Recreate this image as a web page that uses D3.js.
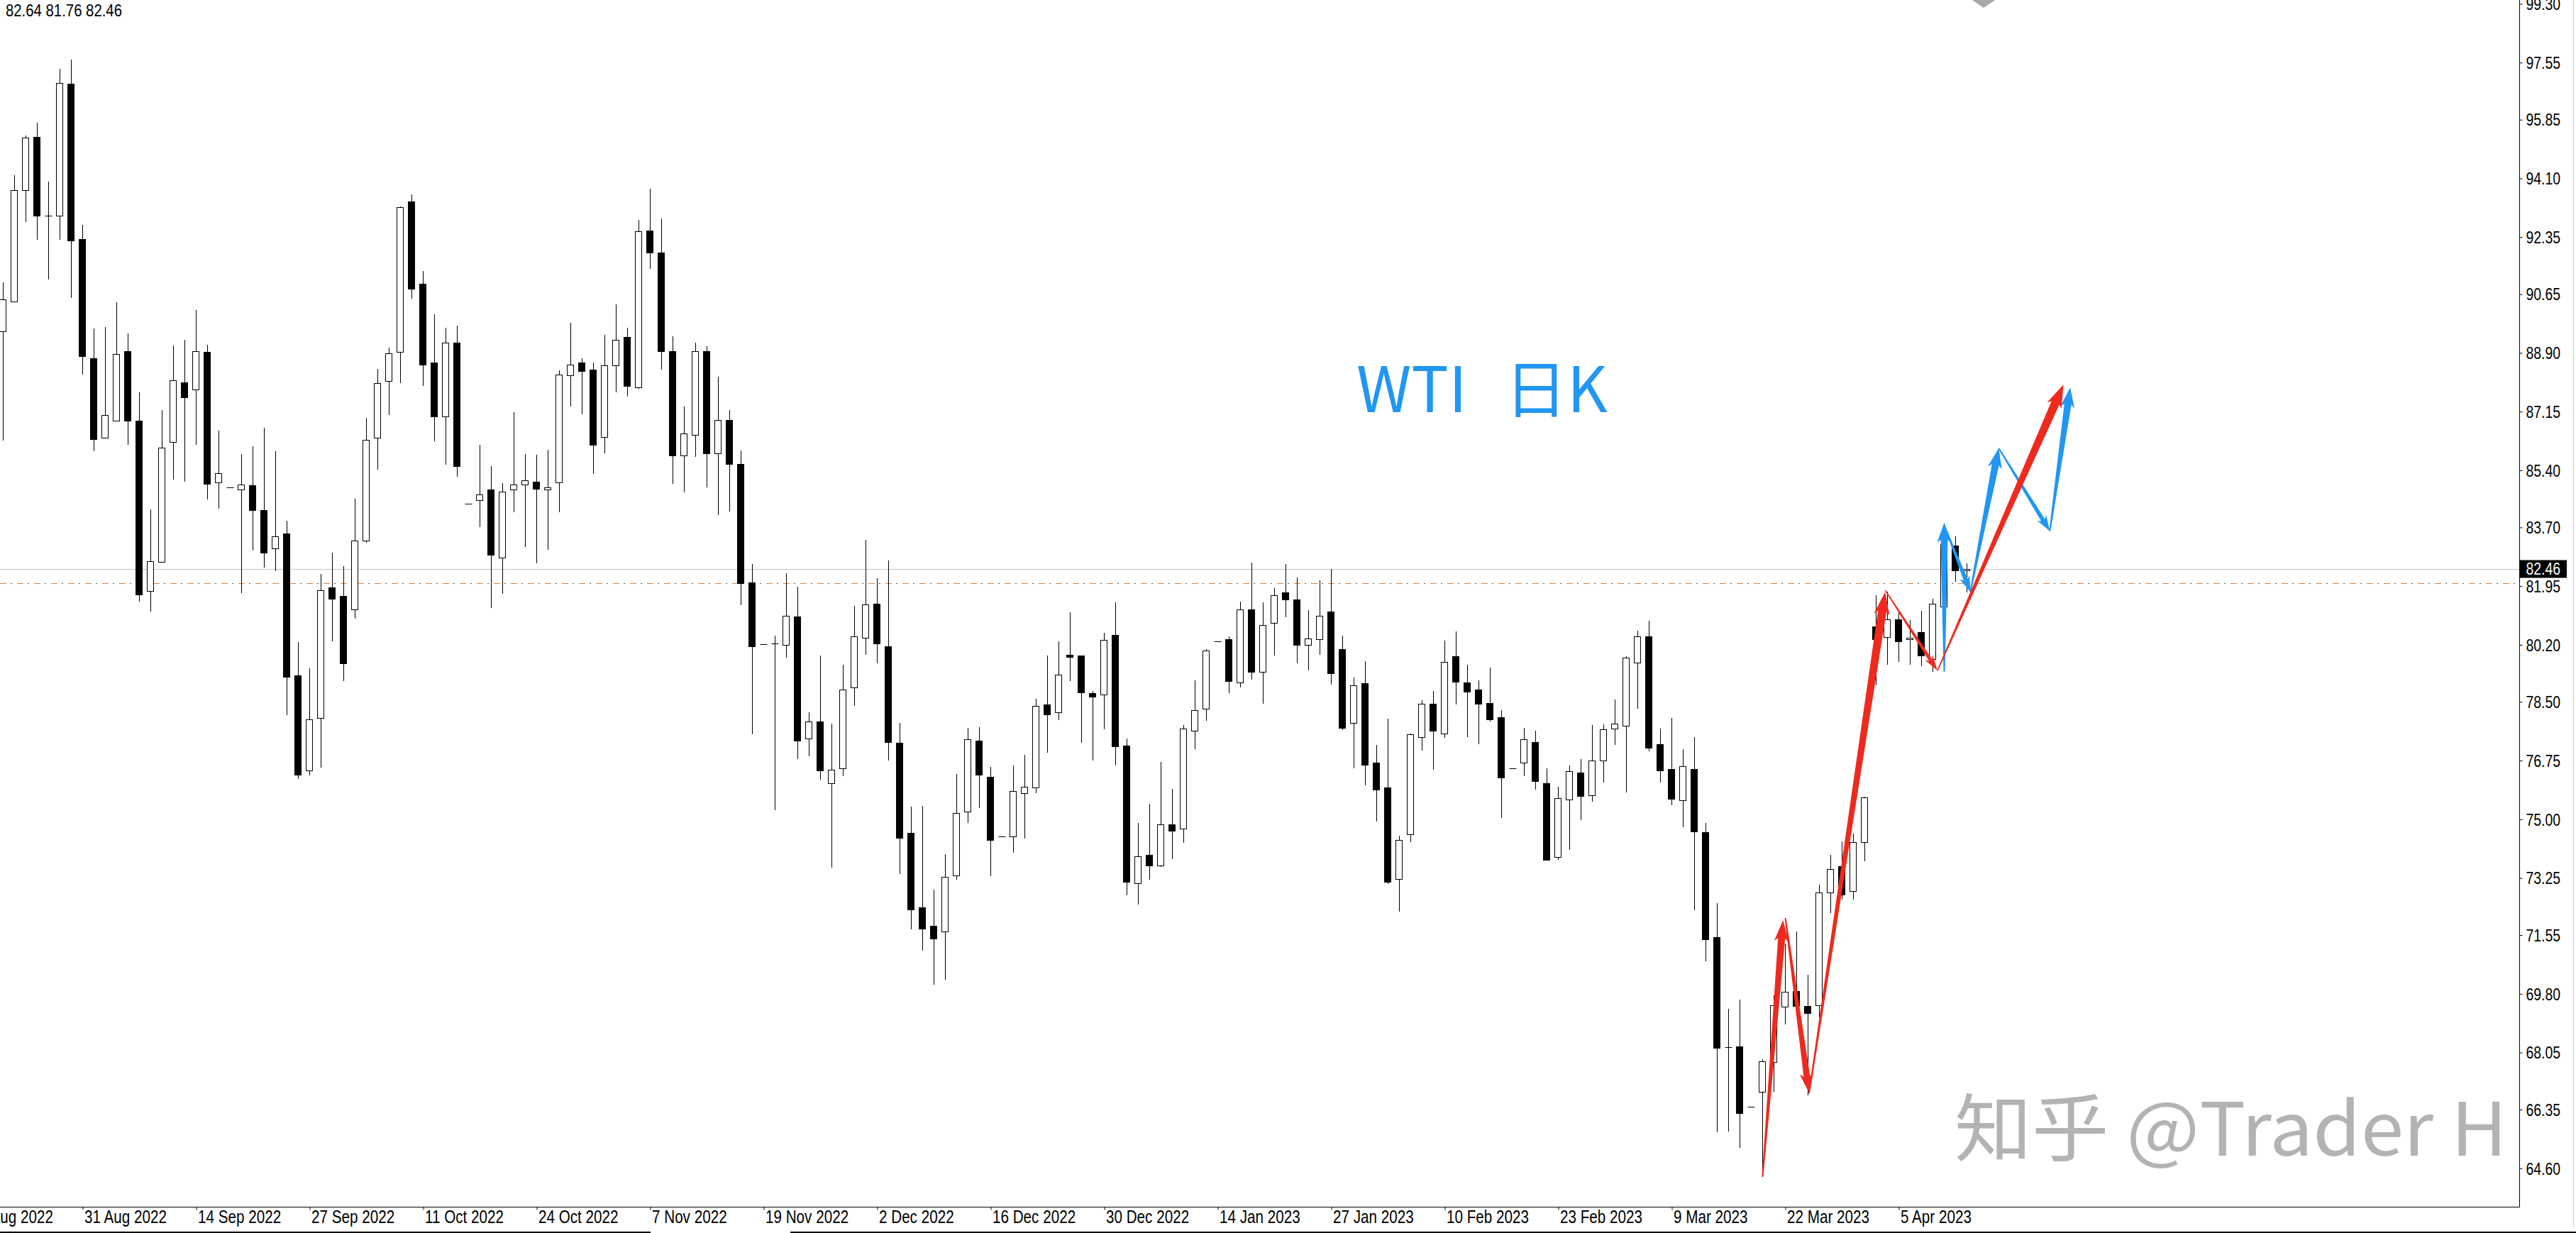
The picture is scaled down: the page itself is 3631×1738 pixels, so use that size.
<!DOCTYPE html>
<html>
<head>
<meta charset="utf-8">
<script src="https://cdn.jsdelivr.net/npm/d3@7/dist/d3.min.js"></script>
<style>
body { margin: 0; background: #fff; overflow: hidden; }
svg { display: block; }
</style>
</head>
<body>
<script>
// daily bars, oldest first
var opens = [89.55,90.43,93.75,95.34,92.99,92.98,96.93,92.30,88.74,86.37,86.87,88.95,86.88,81.80,82.67,86.25,88.03,87.80,88.92,85.05,
84.90,84.82,84.96,84.22,83.07,83.52,79.28,76.46,78.02,81.92,81.66,81.26,83.31,86.37,88.07,88.92,93.41,90.95,88.61,87.00,
89.20,84.41,84.52,84.83,82.80,84.83,84.97,85.07,84.82,85.05,88.23,88.62,88.40,86.40,88.53,89.38,87.87,92.55,91.90,88.95,
85.85,86.45,88.95,85.90,86.90,85.60,82.06,80.23,80.22,80.19,81.05,77.40,77.92,76.08,76.51,78.94,80.42,81.42,80.16,77.28,
74.60,72.37,71.82,71.66,73.33,75.24,77.35,76.27,74.49,74.48,75.77,75.94,78.42,78.18,79.90,79.88,78.76,78.71,80.49,77.20,
73.09,73.93,73.62,74.84,74.72,77.64,78.29,80.30,80.37,79.07,81.25,79.39,80.85,81.76,81.55,80.19,80.36,81.19,80.07,77.87,
79.06,76.69,75.95,73.22,74.56,77.46,78.44,77.56,79.86,79.07,78.87,78.47,78.04,76.51,76.68,77.30,76.08,73.87,75.60,76.40,
75.71,76.76,77.70,77.78,79.68,80.45,77.23,76.49,75.56,76.49,74.61,71.49,68.20,68.23,66.43,66.87,67.76,69.42,69.89,69.44,
69.45,72.83,73.60,72.87,74.32,80.75,80.43,80.96,80.36,80.58,79.77,81.35,83.16,82.41]
var highs = [91.01,94.20,95.38,95.75,94.00,97.36,97.64,92.71,89.63,89.66,90.40,89.47,87.73,84.24,87.20,89.11,89.29,90.18,89.14,86.59,
84.90,85.88,86.12,86.66,85.97,83.90,80.29,79.50,82.31,82.95,82.54,84.55,86.96,88.42,89.05,93.27,93.62,91.34,90.05,89.65,
89.71,84.41,86.17,85.52,85.02,87.14,85.88,85.87,86.02,88.39,89.79,88.73,88.62,89.44,90.35,89.65,92.87,93.80,92.90,89.40,
87.30,89.20,89.10,88.20,87.20,86.00,82.60,80.23,80.48,82.34,81.94,78.19,79.88,77.85,79.60,81.36,83.33,82.19,82.72,77.87,
75.37,75.39,72.91,73.97,76.35,77.72,77.75,76.56,74.49,76.61,76.92,78.59,79.88,80.30,81.17,79.88,78.83,80.56,81.47,77.40,
74.89,75.46,76.71,75.91,77.80,79.14,80.07,80.30,80.45,81.49,82.65,81.47,81.88,82.61,82.21,81.24,82.12,82.46,80.47,79.23,
79.71,77.22,77.99,74.51,77.55,78.55,78.83,80.33,80.60,79.61,79.14,79.52,78.25,76.51,77.73,77.63,76.53,75.96,76.60,76.79,
77.81,77.83,78.58,79.86,80.63,80.92,77.70,78.03,77.10,77.44,74.90,72.51,69.36,69.63,66.43,67.86,69.75,71.30,71.66,70.37,
73.05,73.93,74.34,74.58,75.68,81.67,81.78,81.17,80.93,81.21,81.57,83.50,83.43,82.64]
var lows = [86.29,90.43,92.79,92.28,91.08,92.28,90.53,88.26,85.97,86.37,86.87,86.17,81.49,81.19,82.67,85.13,85.06,86.17,84.53,84.26,
84.90,81.74,83.00,82.50,82.39,78.11,76.21,76.30,76.55,80.31,79.12,80.99,83.24,85.41,87.04,87.99,90.51,87.91,86.26,85.56,
85.20,84.41,83.70,81.29,81.72,84.15,83.12,82.62,83.04,84.15,87.31,87.06,85.29,85.91,87.72,87.60,87.84,91.40,88.40,85.00,
84.75,85.80,84.90,84.06,84.18,81.39,77.53,80.23,75.27,79.82,76.79,76.87,76.18,73.57,76.28,78.39,79.90,79.64,76.76,73.38,
71.72,71.09,70.07,70.22,73.19,74.89,75.33,73.30,74.49,74.01,74.43,75.79,76.99,77.96,79.12,77.29,76.76,77.69,76.60,72.73,
72.45,73.21,73.58,73.82,74.29,77.08,77.94,80.30,78.77,78.94,79.17,78.44,79.89,81.03,79.64,79.43,79.91,79.02,77.66,76.53,
76.02,74.94,73.07,72.24,74.33,77.05,76.48,77.43,78.43,77.46,77.23,77.91,75.05,76.51,76.29,75.88,73.78,73.80,74.08,74.97,
75.52,76.10,77.21,75.80,78.30,77.03,76.09,75.41,74.76,72.30,70.76,65.68,65.70,65.20,66.43,64.35,66.87,68.88,69.20,66.78,
69.10,72.20,72.60,72.60,73.76,78.99,79.61,79.69,79.61,79.56,79.40,81.20,82.08,81.76]
var closes = [90.49,93.75,95.31,92.98,92.99,96.94,92.24,88.80,86.32,87.05,88.87,86.87,81.71,82.69,86.07,88.09,87.57,88.95,85.00,85.31,
84.90,84.97,84.22,82.94,83.44,79.25,76.33,77.97,81.83,81.57,79.64,83.31,86.30,87.99,88.88,93.25,90.81,88.54,87.00,89.20,
85.53,84.41,84.67,82.88,84.77,84.97,85.10,84.86,84.89,88.26,88.54,88.35,86.17,88.53,89.28,87.91,92.53,91.90,88.95,85.85,
86.50,88.95,85.90,86.90,85.60,82.03,80.15,80.23,80.24,81.07,77.35,77.92,76.45,76.47,78.87,80.45,81.40,80.25,77.31,74.44,
72.32,71.75,71.44,73.29,75.19,77.38,76.32,74.39,74.49,75.84,75.96,78.37,78.13,79.30,79.83,78.79,78.66,80.34,77.18,73.13,
73.89,73.63,74.84,74.65,77.70,78.25,80.03,80.30,79.11,81.25,79.39,80.78,81.67,81.56,80.19,80.38,81.06,79.36,77.73,78.99,
76.63,75.89,73.14,74.38,77.53,78.44,77.63,79.70,79.10,78.81,78.45,77.97,76.25,76.51,77.38,76.14,73.80,75.63,76.43,75.70,
76.76,77.69,77.86,79.81,80.46,77.14,76.45,75.61,76.59,74.63,71.43,68.18,68.22,66.24,66.43,67.79,69.45,69.87,69.44,69.22,
72.83,73.51,72.75,74.32,75.65,80.37,80.96,80.30,80.40,79.89,81.42,83.21,82.41,82.46]

var priceTicks = [99.30,97.55,95.85,94.10,92.35,90.65,88.90,87.15,85.40,83.70,81.95,80.20,78.50,76.75,75.00,73.25,71.55,69.80,68.05,66.35,64.60]
var dateTickBars = [-3,7,17,27,37,47,57,67,77,87,97,107,117,127,137,147,157,167]
var dateTickLabels = ["17 Aug 2022","31 Aug 2022","14 Sep 2022","27 Sep 2022","11 Oct 2022","24 Oct 2022","7 Nov 2022","19 Nov 2022",
  "2 Dec 2022","16 Dec 2022","30 Dec 2022","14 Jan 2023","27 Jan 2023","10 Feb 2023","23 Feb 2023","9 Mar 2023","22 Mar 2023","5 Apr 2023"]

var lastPrice = 82.46
var hLinePrice = 82.03
var headerText = "82.64 81.76 82.46"

// hand drawn arrows: [bar, price] from -> to
var redArrows = [
  [[155.0,64.35],[156.8,72.00]],
  [[157.0,72.06],[159.1,66.84]],
  [[159.1,66.84],[165.8,81.78]],
  [[165.8,81.83],[170.4,79.43]],
  [[170.4,79.43],[181.5,87.95]]
]
var blueArrows = [
  [[171.0,79.40],[171.0,83.84]],
  [[171.0,83.76],[173.3,81.78]],
  [[173.3,81.78],[175.8,86.06]],
  [[175.8,86.06],[180.3,83.59]],
  [[180.3,83.59],[182.1,87.87]]
]

var width = 3631, height = 1738
var plotRight = 3551, plotBottom = 1701
var axisFont = "'Liberation Sans', Arial, sans-serif"

var svg = d3.select("body").append("svg").attr("width", width).attr("height", height)
svg.append("rect").attr("width", width).attr("height", height).attr("fill", "#fff")

svg.append("defs").append("clipPath").attr("id", "plot")
  .append("rect").attr("x", 0).attr("y", 0).attr("width", plotRight).attr("height", plotBottom)

var x = d3.scaleLinear().domain([0, 173]).range([4.5, 4.5 + 16 * 173])
var y = d3.scaleLinear().domain([64.60, 99.30]).range([1646.8, 5.5])

function crisp(v) { return Math.round(v) + 0.5 }

// squeeze text horizontally so a reference string hits a measured width
function squeeze(sel, refText, target) {
  var f = 1
  sel.each(function() { if (this.textContent === refText) f = target / this.getComputedTextLength() })
  sel.each(function() {
    var w = this.getComputedTextLength()
    d3.select(this).attr("textLength", w * f).attr("lengthAdjust", "spacingAndGlyphs")
  })
}

var plot = svg.append("g").attr("clip-path", "url(#plot)")

// bid line + horizontal dash-dot line
plot.append("line").attr("x1", 0).attr("x2", plotRight)
  .attr("y1", crisp(y(lastPrice))).attr("y2", crisp(y(lastPrice)))
  .attr("stroke", "#c4c4c4").attr("stroke-width", 1)
plot.append("line").attr("x1", 0).attr("x2", plotRight)
  .attr("y1", crisp(y(hLinePrice))).attr("y2", crisp(y(hLinePrice)))
  .attr("stroke", "#e0823e").attr("stroke-width", 1).attr("stroke-dasharray", "9,15")
plot.append("line").attr("x1", 0).attr("x2", plotRight)
  .attr("y1", crisp(y(hLinePrice))).attr("y2", crisp(y(hLinePrice)))
  .attr("stroke", "#555").attr("stroke-width", 1).attr("stroke-dasharray", "2,22").attr("stroke-dashoffset", -15)

var bars = d3.range(opens.length).map(function(i) {
  return { i: i, o: opens[i], h: highs[i], l: lows[i], c: closes[i] }
})

// wicks
plot.append("g").selectAll("line").data(bars.filter(function(d) { return d.h > d.l })).enter()
  .append("line")
  .attr("x1", function(d) { return x(d.i) }).attr("x2", function(d) { return x(d.i) })
  .attr("y1", function(d) { return Math.round(y(d.h)) }).attr("y2", function(d) { return Math.round(y(d.l)) })
  .attr("stroke", "#000").attr("stroke-width", 1)

// doji / flat bars
plot.append("g").selectAll("line").data(bars.filter(function(d) { return Math.abs(d.o - d.c) < 0.03 })).enter()
  .append("line")
  .attr("x1", function(d) { return x(d.i) - 5 }).attr("x2", function(d) { return x(d.i) + 5 })
  .attr("y1", function(d) { return crisp(y(d.c)) }).attr("y2", function(d) { return crisp(y(d.c)) })
  .attr("stroke", "#000").attr("stroke-width", 1)

// bodies
plot.append("g").selectAll("rect").data(bars.filter(function(d) { return Math.abs(d.o - d.c) >= 0.03 })).enter()
  .append("rect")
  .attr("x", function(d) { return x(d.i) - 5 })
  .attr("y", function(d) { return crisp(y(Math.max(d.o, d.c))) })
  .attr("width", 9)
  .attr("height", function(d) { return Math.max(1, Math.round(y(Math.min(d.o, d.c))) - Math.round(y(Math.max(d.o, d.c)))) })
  .attr("fill", function(d) { return d.c < d.o ? "#000" : "#fff" })
  .attr("stroke", "#000").attr("stroke-width", 1)

// tapered arrows
function arrowPath(a, w0, w1, hl, hw) {
  var p0 = [x(a[0][0]), y(a[0][1])], p1 = [x(a[1][0]), y(a[1][1])]
  var dx = p1[0] - p0[0], dy = p1[1] - p0[1], len = Math.sqrt(dx * dx + dy * dy)
  var ux = dx / len, uy = dy / len, nx = -uy, ny = ux
  var bx = p1[0] - ux * hl, by = p1[1] - uy * hl
  var pts = [
    [p0[0] + nx * w0 / 2, p0[1] + ny * w0 / 2],
    [bx + nx * w1 / 2, by + ny * w1 / 2],
    [bx - ux * 4 + nx * hw / 2, by - uy * 4 + ny * hw / 2],
    p1,
    [bx - ux * 4 - nx * hw / 2, by - uy * 4 - ny * hw / 2],
    [bx - nx * w1 / 2, by - ny * w1 / 2],
    [p0[0] - nx * w0 / 2, p0[1] - ny * w0 / 2]
  ]
  return d3.line()(pts) + "Z"
}
var blueStyle = [[2,10,24,20],[2,6,18,15],[2,10,24,20],[2,6,18,15],[2,10,24,20]]
var redStyle = [[2,10,26,20],[2,9,24,19],[2,12,28,22],[1.5,5,18,13],[1.5,12,28,22]]

plot.append("g").selectAll("path").data(blueArrows).enter().append("path")
  .attr("d", function(d, i) { var s = blueStyle[i]; return arrowPath(d, s[0], s[1], s[2], s[3]) })
  .attr("fill", "#2196f3")
plot.append("g").selectAll("path").data(redArrows).enter().append("path")
  .attr("d", function(d, i) { var s = redStyle[i]; return arrowPath(d, s[0], s[1], s[2], s[3]) })
  .attr("fill", "#ee2a1e")

// chart shift marker
svg.append("path").attr("d", "M2780,0L2812,0L2796,11Z").attr("fill", "#a8a8a8")

// title
svg.append("text").attr("x", 1912).attr("y", 581)
  .attr("font-family", "'Noto Sans CJK SC', sans-serif").attr("font-size", 88)
  .attr("fill", "#2196f3").text("WTI")
svg.append("text").attr("x", 2121).attr("y", 581)
  .attr("font-family", "'Noto Sans CJK SC', sans-serif").attr("font-size", 88)
  .attr("fill", "#2196f3").text("日K")

// right price axis
var yAxis = svg.append("g").attr("transform", "translate(" + (plotRight + 0.5) + ",0)")
  .call(d3.axisRight(y).tickValues(priceTicks).tickSize(4).tickPadding(5).tickFormat(d3.format(".2f")))
yAxis.select(".domain").remove()
yAxis.selectAll("line").attr("stroke", "#000")
yAxis.selectAll("text").attr("font-family", axisFont).attr("font-size", 23).attr("fill", "#000")
  .attr("dy", "0.36em")
squeeze(yAxis.selectAll("text"), "99.30", 48.6)
svg.append("line").attr("x1", plotRight + 0.5).attr("x2", plotRight + 0.5).attr("y1", 0).attr("y2", plotBottom + 1)
  .attr("stroke", "#000").attr("stroke-width", 1)

// last price tag
svg.append("rect").attr("x", plotRight + 1).attr("y", y(lastPrice) - 12.5).attr("width", 66).attr("height", 25).attr("fill", "#000")
var tag = svg.append("text").attr("x", plotRight + 9.5).attr("y", y(lastPrice)).attr("dy", "0.36em")
  .attr("font-family", axisFont).attr("font-size", 23).attr("fill", "#fff").text(lastPrice.toFixed(2))
squeeze(tag, "82.46", 48.6)

// bottom date axis
var xAxis = svg.append("g").attr("transform", "translate(0," + (plotBottom + 0.5) + ")")
  .call(d3.axisBottom(x).tickValues(dateTickBars).tickSize(4)
    .tickFormat(function(d, i) { return dateTickLabels[i] }))
xAxis.select(".domain").remove()
xAxis.selectAll("line").attr("stroke", "#000")
xAxis.selectAll("text").attr("font-family", axisFont).attr("font-size", 25).attr("fill", "#000")
  .attr("text-anchor", "start").attr("x", 2).attr("y", 22.5).attr("dy", 0)
squeeze(xAxis.selectAll("text"), "31 Aug 2022", 116)
svg.append("line").attr("x1", 0).attr("x2", plotRight + 1).attr("y1", plotBottom + 0.5).attr("y2", plotBottom + 0.5)
  .attr("stroke", "#000").attr("stroke-width", 1)

// window frame bits
svg.append("line").attr("x1", 0).attr("x2", 917).attr("y1", 1737).attr("y2", 1737).attr("stroke", "#000").attr("stroke-width", 2)
svg.append("line").attr("x1", 1114).attr("x2", width).attr("y1", 1737).attr("y2", 1737).attr("stroke", "#000").attr("stroke-width", 2)
svg.append("line").attr("x1", 3627.5).attr("x2", 3627.5).attr("y1", 0).attr("y2", 1730).attr("stroke", "#d0d0d0").attr("stroke-width", 1)

// OHLC header
var header = svg.append("text").attr("x", 8).attr("y", 23)
  .attr("font-family", axisFont).attr("font-size", 24).attr("fill", "#000").text(headerText)
squeeze(header, headerText, 164)

// watermark
var wm = svg.append("text").attr("x", 2755).attr("y", 1629)
  .attr("font-family", "'Noto Sans CJK SC', sans-serif").attr("font-size", 104)
  .attr("fill", "#b3b3b3").text("知乎 @Trader H")
squeeze(wm, "知乎 @Trader H", 779)
</script>
</body>
</html>
